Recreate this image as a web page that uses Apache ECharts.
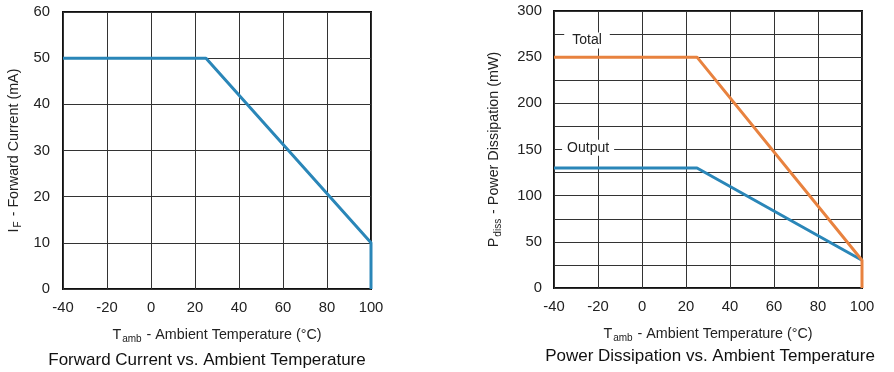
<!DOCTYPE html>
<html><head><meta charset="utf-8">
<script src="https://cdn.jsdelivr.net/npm/echarts@6/dist/echarts.min.js"></script>
<style>html,body{margin:0;padding:0;background:#fff}#c{width:894px;height:372px}</style>
</head><body><div id="c"></div>
<script>
// Data
const currentData = [[-40, 50], [25, 50], [100, 10], [100, 0]];
const totalData = [[-40, 250], [25, 250], [100, 30], [100, 0]];
const outputData = [[-40, 130], [25, 130], [100, 30]];
const totalLabelPos = [-25, 268];
const outputLabelPos = [-24.5, 152];
const titles = ['Forward Current vs. Ambient Temperature', 'Power Dissipation vs. Ambient Temperature'];

const FONT = '"Liberation Sans", Arial, sans-serif';
const BLUE = '#2a86b8', ORANGE = '#e8823f';
const TXT = '#222';
const chart = echarts.init(document.getElementById('c'));

const rich = {
  a: {fontSize: 14.3, color: TXT, fontFamily: FONT},
  s: {fontSize: 10, color: TXT, fontFamily: FONT, padding: [7, 1, 0, 1]}
};
function xAxis(gi) {
  return {
    type: 'value', gridIndex: gi, min: -40, max: 100, interval: 20,
    name: '{a|T}{s|amb}{a| - Ambient Temperature (°C)}',
    nameLocation: 'middle', nameGap: 38,
    nameTextStyle: {rich: rich},
    axisLine: {show: false}, axisTick: {show: false},
    axisLabel: {fontSize: 14.8, color: TXT, fontFamily: FONT, margin: 11},
    splitLine: {show: true, lineStyle: {color: '#333', width: 1}}
  };
}
const option = {
  animation: false,
  title: [
    {text: titles[0], left: 202, top: 347, textAlign: 'center',
     textStyle: {fontSize: 17, fontWeight: 'normal', color: '#111', fontFamily: FONT}},
    {text: titles[1], left: 705, top: 343, textAlign: 'center',
     textStyle: {fontSize: 17, fontWeight: 'normal', color: '#111', fontFamily: FONT}}
  ],
  grid: [
    {left: 63, top: 12, width: 308, height: 277, show: true, borderColor: '#111', borderWidth: 2, backgroundColor: 'transparent'},
    {left: 554, top: 11, width: 308, height: 277, show: true, borderColor: '#111', borderWidth: 2, backgroundColor: 'transparent'}
  ],
  xAxis: [xAxis(0), xAxis(1)],
  yAxis: [
    {type: 'value', gridIndex: 0, min: 0, max: 60, interval: 10,
     name: '{a|I}{s|F}{a| - Forward Current (mA)}', nameLocation: 'middle', nameGap: 40,
     nameTextStyle: {rich: rich},
     axisLine: {show: false}, axisTick: {show: false},
     axisLabel: {fontSize: 14.8, color: TXT, fontFamily: FONT, margin: 13},
     splitLine: {show: true, lineStyle: {color: '#333', width: 1}}},
    {type: 'value', gridIndex: 1, min: 0, max: 300, interval: 50,
     name: '{a|P}{s|diss}{a| - Power Dissipation (mW)}', nameLocation: 'middle', nameGap: 51,
     nameTextStyle: {rich: rich},
     axisLine: {show: false}, axisTick: {show: false},
     axisLabel: {fontSize: 14.8, color: TXT, fontFamily: FONT, margin: 12},
     splitLine: {show: true, lineStyle: {color: '#333', width: 1}},
     minorTick: {show: false, splitNumber: 2},
     minorSplitLine: {show: true, lineStyle: {color: '#333', width: 1}}}
  ],
  series: [
    {type: 'line', xAxisIndex: 0, yAxisIndex: 0, data: currentData, symbol: 'none',
     lineStyle: {color: BLUE, width: 3}, z: 5},
    {type: 'line', xAxisIndex: 1, yAxisIndex: 1, data: outputData, symbol: 'none',
     lineStyle: {color: BLUE, width: 3}, z: 5,
     markPoint: {symbol: 'rect', symbolSize: 1, itemStyle: {color: 'transparent'},
       data: [{coord: outputLabelPos, value: 'Output'}],
       label: {show: true, position: 'inside', formatter: 'Output', fontSize: 14, color: TXT, fontFamily: FONT,
         backgroundColor: '#fff', padding: [1, 5, 1, 5]}}},
    {type: 'line', xAxisIndex: 1, yAxisIndex: 1, data: totalData, symbol: 'none',
     lineStyle: {color: ORANGE, width: 3}, z: 6,
     markPoint: {symbol: 'rect', symbolSize: 1, itemStyle: {color: 'transparent'},
       data: [{coord: totalLabelPos, value: 'Total'}],
       label: {show: true, position: 'inside', formatter: 'Total', fontSize: 14, color: TXT, fontFamily: FONT,
         backgroundColor: '#fff', padding: [1, 8, 1, 8]}}}
  ]
};
chart.setOption(option);
</script></body></html>
